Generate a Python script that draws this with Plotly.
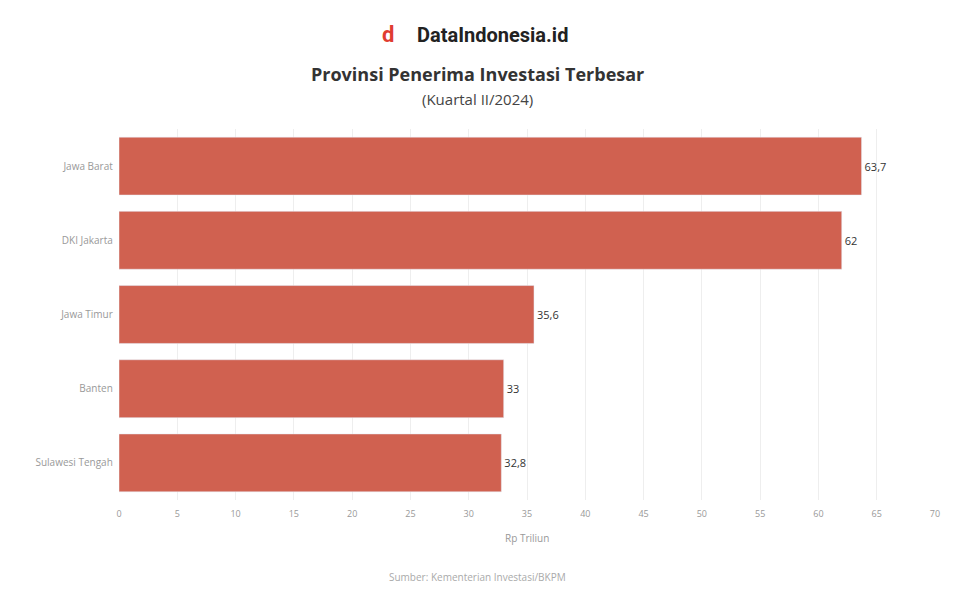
import plotly.graph_objects as go

provinces = ["Jawa Barat", "DKI Jakarta", "Jawa Timur", "Banten", "Sulawesi Tengah"]
values = [63.7, 62.0, 35.6, 33.0, 32.8]
labels = ["63,7", "62", "35,6", "33", "32,8"]
tick_vals = list(range(0, 75, 5))

T, B = 129, 96
fig = go.Figure(go.Bar(
    y=provinces, x=values, orientation="h",
    marker=dict(color="#D06150"),
    text=labels, textposition="outside",
    textfont=dict(family="Open Sans, sans-serif", size=11, color="#333"),
    cliponaxis=False,
))
fig.update_layout(
    width=954, height=596,
    margin=dict(l=119, r=19, t=T, b=B, autoexpand=False),
    paper_bgcolor="white", plot_bgcolor="white",
    bargap=0.22,
    showlegend=False,
    font=dict(family="Open Sans, sans-serif", color="#888"),
    xaxis=dict(range=[0, 70], tickvals=tick_vals, showgrid=True, gridcolor="#eeeeee",
               zeroline=False, automargin=False, tickfont=dict(size=9, color="#999"),
               ticks="outside", ticklen=5, tickcolor="rgba(0,0,0,0)"),
    yaxis=dict(autorange="reversed", automargin=False, tickfont=dict(size=10, color="#999"),
               ticksuffix="  "),
)
H = 596 - T - B
W = 954 - 119 - 19
def px(x): return (x - 119) / W
def py(y): return (596 - B - y) / H

def ann(text, x, y, size, color, family="Open Sans"):
    fig.add_annotation(text=text, xref="paper", yref="paper", x=px(x), y=py(y),
                       xanchor="center", yanchor="middle", showarrow=False,
                       font=dict(family=family, size=size, color=color))

ann("<b>DataIndonesia.id</b>", 492, 35, 20, "#222", "Roboto")
ann("<b>d</b>", 388, 34, 22, "#E03C31", "Roboto")
ann("<b>Provinsi Penerima Investasi Terbesar</b>", 477, 74, 18, "#333")
ann("(Kuartal II/2024)", 477, 99, 15, "#444")
ann("Rp Triliun", 527, 538, 10, "#999")
ann("Sumber: Kementerian Investasi/BKPM", 477, 577, 10, "#aaa")
fig.write_html("out.html", post_script="document.body.style.margin='0';",
               config={"displayModeBar": False})
